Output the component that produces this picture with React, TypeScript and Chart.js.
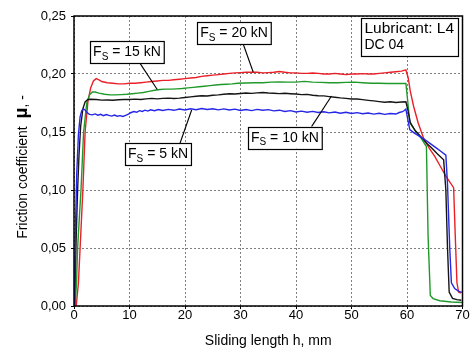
import React, { useEffect, useRef } from "react";
import { Chart, registerables } from "chart.js";

Chart.register(...registerables);

const FONT = '"Liberation Sans", Arial, Helvetica, sans-serif';

const xMin = 0;
const xMax = 70;
const xStep = 10;
const yMin = 0;
const yMax = 0.25;
const yStep = 0.05;

const xTitle = "Sliding length h, mm";
const yTitleMain = "Friction coefficient  ";
const yTitleSymbol = "\u00B5";
const yTitleUnit = ", -";
const infoLines = ["Lubricant: L4", "DC 04"];

// F_S = 5 kN (blue)
const blueX = [0, 0.15, 0.3, 0.5, 0.8, 1.1, 1.4, 1.7, 2.0, 2.4, 2.8, 3.3, 3.8, 4.3, 4.8, 5.3, 5.8, 6.3, 6.8, 7.3, 7.8, 8.3, 8.8, 9.3, 9.8, 10.3, 10.8, 11.3, 11.8, 12.3, 12.8, 13.3, 13.8, 14.5, 15.2, 16, 17, 18, 19, 20, 21, 22, 23, 24, 25, 26, 27, 28, 29, 30, 31, 32, 33, 34, 35, 36, 37, 38, 39, 40, 41, 42, 43, 44, 45, 46, 47, 48, 49, 50, 51, 52, 53, 54, 55, 56, 57, 58, 58.6, 59.2, 59.5, 59.8, 60.1, 60.5, 61.2, 62.2, 63.2, 64.2, 65.2, 66.2, 67.0, 67.3, 67.7, 68.0, 68.6, 69.2, 69.7, 70];
const blueY = [0, 0.035, 0.075, 0.115, 0.148, 0.163, 0.1685, 0.17, 0.169, 0.1665, 0.1652, 0.1648, 0.1656, 0.1645, 0.1653, 0.1641, 0.165, 0.1643, 0.1637, 0.1646, 0.1636, 0.1641, 0.1634, 0.1643, 0.1655, 0.1668, 0.1676, 0.167, 0.1684, 0.1677, 0.1688, 0.168, 0.1691, 0.1683, 0.1694, 0.1686, 0.1695, 0.1687, 0.1698, 0.169, 0.17, 0.1692, 0.1702, 0.1694, 0.17, 0.1691, 0.1699, 0.169, 0.1697, 0.1686, 0.1694, 0.1684, 0.1695, 0.1687, 0.1693, 0.1682, 0.1688, 0.1677, 0.1684, 0.1672, 0.168, 0.167, 0.1678, 0.1668, 0.1675, 0.1665, 0.1672, 0.1662, 0.167, 0.166, 0.1667, 0.1657, 0.1664, 0.1654, 0.1661, 0.1652, 0.166, 0.1655, 0.1668, 0.1675, 0.1685, 0.1698, 0.162, 0.152, 0.1495, 0.1465, 0.1435, 0.14, 0.1365, 0.133, 0.13, 0.105, 0.05, 0.02, 0.015, 0.013, 0.012, 0.012];

// F_S = 10 kN (black)
const blackX = [0, 0.2, 0.4, 0.65, 0.9, 1.2, 1.6, 2.0, 2.5, 3, 4, 5, 6, 7, 8, 9, 10, 11, 12, 13, 14, 15, 16, 17, 18, 19, 20, 21, 22, 23, 24, 25, 26, 27, 28, 29, 30, 31, 32, 33, 34, 35, 36, 37, 38, 39, 40, 41, 42, 43, 44, 45, 46, 47, 48, 49, 50, 51, 52, 53, 54, 55, 56, 57, 58, 59, 59.8, 60.2, 60.6, 61.5, 62.5, 63.5, 64.5, 65.5, 66.6, 67.0, 67.3, 67.6, 68.2, 69.0, 69.8];
const blackY = [0, 0.02, 0.06, 0.1, 0.13, 0.155, 0.17, 0.176, 0.178, 0.1782, 0.178, 0.1775, 0.1776, 0.1774, 0.1778, 0.178, 0.178, 0.1783, 0.178, 0.1786, 0.179, 0.1786, 0.179, 0.1792, 0.1789, 0.1792, 0.1797, 0.1803, 0.1808, 0.1813, 0.1811, 0.1817, 0.182, 0.1825, 0.183, 0.1827, 0.1832, 0.1836, 0.1833, 0.1837, 0.184, 0.1836, 0.1834, 0.1831, 0.1834, 0.183, 0.1827, 0.1822, 0.1824, 0.1817, 0.1812, 0.1811, 0.1805, 0.18, 0.1794, 0.179, 0.1785, 0.1784, 0.1779, 0.1773, 0.1768, 0.1762, 0.1757, 0.1761, 0.1754, 0.1758, 0.176, 0.168, 0.158, 0.151, 0.146, 0.1405, 0.136, 0.131, 0.126, 0.1, 0.05, 0.012, 0.0066, 0.0055, 0.005];

// F_S = 15 kN (green)
const greenX = [0.2, 0.45, 0.65, 0.95, 1.26, 1.73, 2.3, 2.8, 3.3, 3.8, 4.5, 5.5, 6.5, 7.5, 8.5, 9.5, 10.5, 11.5, 12.5, 13.5, 14.5, 15.5, 16.5, 17.5, 18.5, 19.5, 20.5, 21.5, 22.5, 23.5, 24.5, 25.5, 26.5, 27.5, 28.5, 29.5, 31, 32.5, 34, 35.5, 37, 38.5, 40, 41.5, 43, 44.5, 46, 47.5, 49, 50.5, 52, 53.5, 55, 56.5, 58, 59.8, 60.1, 60.5, 61.5, 62.5, 63.5, 63.8, 64.2, 64.7, 65.9, 68, 70];
const greenY = [0, 0.02, 0.05, 0.075, 0.1, 0.15, 0.175, 0.182, 0.1845, 0.1845, 0.1835, 0.1825, 0.182, 0.182, 0.1822, 0.1825, 0.183, 0.1835, 0.184, 0.185, 0.186, 0.1866, 0.187, 0.187, 0.1872, 0.1875, 0.188, 0.1885, 0.189, 0.1895, 0.19, 0.1905, 0.191, 0.1912, 0.1915, 0.192, 0.1922, 0.1925, 0.1925, 0.193, 0.1932, 0.193, 0.193, 0.1936, 0.193, 0.1928, 0.1925, 0.1925, 0.1928, 0.193, 0.1925, 0.192, 0.192, 0.1918, 0.1918, 0.1918, 0.178, 0.158, 0.151, 0.145, 0.1375, 0.06, 0.009, 0.0064, 0.0045, 0.0035, 0.003];

// F_S = 20 kN (red)
const redX = [0.4, 0.8, 1.1, 1.6, 2.0, 2.5, 3.0, 3.5, 4.0, 4.5, 5, 6, 7, 8, 9, 10, 11, 12, 13, 14, 15, 16, 17, 18, 19, 20, 21, 22, 23, 24, 25, 26, 27, 28, 29, 30, 31, 32, 33, 34, 35, 36, 37, 38, 39, 40, 41, 42, 43, 44, 45, 46, 47, 48, 49, 50, 51, 52, 53, 54, 55, 56, 57, 58, 59, 59.8, 60.2, 60.6, 61.2, 62, 63, 64, 65, 66, 67, 68.4, 68.7, 69.0, 69.3, 69.7];
const redY = [0, 0.02, 0.05, 0.1, 0.15, 0.176, 0.188, 0.194, 0.196, 0.195, 0.1935, 0.1925, 0.192, 0.1915, 0.1915, 0.192, 0.192, 0.1925, 0.193, 0.1935, 0.194, 0.1945, 0.1945, 0.195, 0.1955, 0.196, 0.1965, 0.197, 0.198, 0.1985, 0.199, 0.1995, 0.2, 0.2005, 0.201, 0.2012, 0.2015, 0.2015, 0.2015, 0.201, 0.2012, 0.2015, 0.2022, 0.2015, 0.201, 0.201, 0.2005, 0.2005, 0.2008, 0.2005, 0.2, 0.2, 0.2005, 0.2, 0.1995, 0.2, 0.2, 0.2003, 0.2, 0.2, 0.2005, 0.201, 0.2015, 0.202, 0.2025, 0.2035, 0.197, 0.185, 0.172, 0.158, 0.1445, 0.136, 0.129, 0.1205, 0.112, 0.102, 0.06, 0.02, 0.012, 0.011];

const seriesNames = ["5 kN", "10 kN", "15 kN", "20 kN"];
const seriesColors = ["#2626e8", "#151515", "#1f9a2a", "#ea2029"];

// Callout labels: box top-left corner (data coords), leader start x on box edge, leader target (data coords)
const calloutValues = ["15", "20", "5", "10"];
const calloutBoxX = [2.9, 22.2, 9.2, 31.35];
const calloutBoxY = [0.2281, 0.2446, 0.1403, 0.1546];
const calloutLeaderFromX = [11.9, 30.5, 19.1, 42.8];
const calloutLeaderSide = ["bottom", "bottom", "top", "top"];
const calloutTargetX = [15.0, 32.3, 21.2, 46.4];
const calloutTargetY = [0.1866, 0.2015, 0.169, 0.181];

const infoBoxX = 51.7;
const infoBoxY = 0.248;

const BOX_H = 22;

function drawCallout(ctx: CanvasRenderingContext2D, left: number, top: number, value: string) {
  const main = "14px " + FONT;
  const sub = "10px " + FONT;
  ctx.font = main;
  const wF = ctx.measureText("F").width;
  ctx.font = sub;
  const wS = ctx.measureText("S").width;
  ctx.font = main;
  const rest = " = " + value + " kN";
  const wR = ctx.measureText(rest).width;
  const w = 3 + wF + wS + wR + 3;
  ctx.fillStyle = "#fff";
  ctx.fillRect(left, top, w, BOX_H);
  ctx.strokeStyle = "#000";
  ctx.lineWidth = 1.2;
  ctx.strokeRect(Math.round(left) + 0.5, Math.round(top) + 0.5, w, BOX_H);
  ctx.fillStyle = "#000";
  ctx.textAlign = "left";
  ctx.textBaseline = "alphabetic";
  ctx.font = main;
  ctx.fillText("F", left + 3, top + 15);
  ctx.font = sub;
  ctx.fillText("S", left + 3 + wF, top + 18.5);
  ctx.font = main;
  ctx.fillText(rest, left + 3 + wF + wS, top + 15);
}

const overlayPlugin = {
  id: "overlay",
  afterDatasetsDraw(chart: any) {
    const { ctx, chartArea: a, scales } = chart;
    const xs = scales.x;
    const ys = scales.y;
    ctx.save();
    // frame
    ctx.strokeStyle = "#000";
    ctx.lineWidth = 1.5;
    ctx.strokeRect(a.left, a.top, a.right - a.left, a.bottom - a.top);

    // callouts
    for (let i = 0; i < calloutValues.length; i++) {
      const left = xs.getPixelForValue(calloutBoxX[i]);
      const top = ys.getPixelForValue(calloutBoxY[i]);
      const fx = xs.getPixelForValue(calloutLeaderFromX[i]);
      const fy = calloutLeaderSide[i] === "bottom" ? top + BOX_H : top;
      const tx = xs.getPixelForValue(calloutTargetX[i]);
      const ty = ys.getPixelForValue(calloutTargetY[i]);
      ctx.strokeStyle = "#000";
      ctx.lineWidth = 1.1;
      ctx.beginPath();
      ctx.moveTo(fx, fy);
      ctx.lineTo(tx, ty);
      ctx.stroke();
      drawCallout(ctx, left, top, calloutValues[i]);
    }

    // info box
    const il = xs.getPixelForValue(infoBoxX);
    const it = ys.getPixelForValue(infoBoxY);
    const iw = 97;
    const ih = 38;
    ctx.fillStyle = "#fff";
    ctx.fillRect(il, it, iw, ih);
    ctx.strokeStyle = "#000";
    ctx.lineWidth = 1.2;
    ctx.strokeRect(Math.round(il) + 0.5, Math.round(it) + 0.5, iw, ih);
    ctx.fillStyle = "#000";
    ctx.textAlign = "left";
    ctx.textBaseline = "alphabetic";
    ctx.font = "15.5px " + FONT;
    ctx.fillText(infoLines[0], il + 3.5, it + 15);
    ctx.font = "14px " + FONT;
    ctx.fillText(infoLines[1], il + 3.5, it + 31);

    // y-axis title
    ctx.translate(22, (a.top + a.bottom) / 2 + 6);
    ctx.rotate(-Math.PI / 2);
    const f1 = "14px " + FONT;
    const f2 = "bold 19px " + FONT;
    ctx.font = f1;
    const w1 = ctx.measureText(yTitleMain).width;
    const w3 = ctx.measureText(yTitleUnit).width;
    ctx.font = f2;
    const w2 = ctx.measureText(yTitleSymbol).width;
    const total = w1 + w2 + w3;
    let px = -total / 2;
    ctx.font = f1;
    ctx.fillText(yTitleMain, px, 5);
    px += w1;
    ctx.font = f2;
    ctx.fillText(yTitleSymbol, px, 5);
    px += w2;
    ctx.font = f1;
    ctx.fillText(yTitleUnit, px, 5);
    ctx.restore();
  },
};

function toPoints(xs: number[], ys: number[]) {
  return xs.map((x, i) => ({ x, y: ys[i] }));
}

export default function App() {
  const ref = useRef<HTMLCanvasElement | null>(null);
  useEffect(() => {
    document.body.style.margin = "0";
    const canvas = ref.current;
    if (!canvas) return;
    const seriesX = [blueX, blackX, greenX, redX];
    const seriesY = [blueY, blackY, greenY, redY];
    const chart = new Chart(canvas, {
      type: "line",
      data: {
        datasets: seriesNames.map((name, i) => ({
          label: name,
          data: toPoints(seriesX[i], seriesY[i]),
          borderColor: seriesColors[i],
          backgroundColor: seriesColors[i],
          borderWidth: 1.4,
          pointRadius: 0,
          tension: 0,
          fill: false,
        })),
      },
      options: {
        responsive: false,
        animation: false,
        devicePixelRatio: 1,
        layout: { padding: { left: 0, right: 11.5, top: 16, bottom: 0 } },
        plugins: {
          legend: { display: false },
          tooltip: { enabled: false },
        },
        scales: {
          x: {
            type: "linear",
            min: xMin,
            max: xMax,
            afterFit: (s: any) => {
              s.height = 49;
            },
            ticks: {
              stepSize: xStep,
              color: "#000",
              font: { family: FONT, size: 13 },
              padding: -1,
              maxRotation: 0,
              autoSkip: false,
            },
            grid: {
              color: "#808080",
              lineWidth: 1,
              drawTicks: true,
              tickLength: 3,
              tickColor: "#000",
              tickWidth: 1,
            },
            border: { display: false, dash: [2, 2] },
            title: {
              display: true,
              text: xTitle,
              color: "#000",
              font: { family: FONT, size: 14 },
              padding: { top: 0, bottom: 5 },
            },
          },
          y: {
            type: "linear",
            min: yMin,
            max: yMax,
            afterFit: (s: any) => {
              s.width = 74;
            },
            ticks: {
              stepSize: yStep,
              color: "#000",
              font: { family: FONT, size: 13 },
              padding: 5,
              callback: (v: any) => Number(v).toFixed(2).replace(".", ","),
            },
            grid: {
              color: "#808080",
              lineWidth: 1,
              drawTicks: true,
              tickLength: 3,
              tickColor: "#000",
              tickWidth: 1,
            },
            border: { display: false, dash: [2, 2] },
          },
        },
      },
      plugins: [overlayPlugin],
    });
    return () => chart.destroy();
  }, []);
  return (
    <div style={{ width: 474, height: 355, background: "#fff" }}>
      <canvas ref={ref} width={474} height={355} style={{ display: "block" }} />
    </div>
  );
}
